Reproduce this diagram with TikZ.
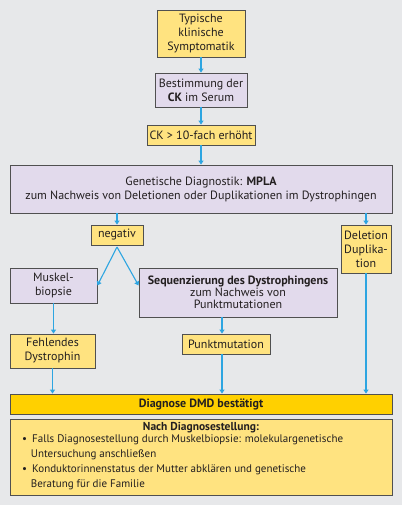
\documentclass[tikz,border=0pt]{standalone}
\usepackage{fontspec}
\setmainfont{PT Sans}
\usetikzlibrary{arrows.meta}
\definecolor{bg}{RGB}{231,232,234}
\definecolor{yel}{RGB}{255,227,128}
\definecolor{yeldark}{RGB}{255,208,0}
\definecolor{pur}{RGB}{226,218,236}
\definecolor{arrblue}{RGB}{45,165,225}
\definecolor{txt}{RGB}{35,31,32}
\definecolor{frame}{RGB}{80,80,80}
\tikzset{
  box/.style={draw=frame, line width=0.8pt, inner sep=0pt, align=center, text=txt, font=\fontsize{12}{14}\selectfont},
  ybox/.style={box, fill=yel},
  pbox/.style={box, fill=pur},
  arr/.style={draw=arrblue, line width=1.1pt, -{Triangle[width=5pt,length=4pt]}},
}
\begin{document}
\begin{tikzpicture}[x=1pt,y=-1pt]
\fill[bg] (0,0) rectangle (402,505);
\useasboundingbox (0,0) rectangle (402,505);
\node[ybox, minimum width=88, minimum height=47] (sympt) at (201,33.5) {Typische\\klinische\\Symptomatik};
\node[pbox, minimum width=92, minimum height=34] (ck) at (201,90) {Bestimmung der\\\textbf{CK} im Serum};
\node[ybox, minimum width=108, minimum height=20] (ck10) at (201,135) {CK > 10-fach erhöht};
\node[pbox, minimum width=382, minimum height=48] (gen) at (201,189) {Genetische Diagnostik: \textbf{MPLA}\\zum Nachweis von Deletionen oder Duplikationen im Dystrophingen};
\node[ybox, minimum width=52, minimum height=20] (neg) at (117,235) {negativ};
\node[ybox, minimum width=50, minimum height=48] (del) at (366,249) {Deletion\\Duplika-\\tion};
\node[pbox, minimum width=87, minimum height=35] (musk) at (53.5,285.5) {Muskel-\\biopsie};
\node[pbox, minimum width=198, minimum height=49] (seq) at (238,292.5) {\textbf{Sequenzierung des Dystrophingens}\\[-2pt]zum Nachweis von\\[-2pt]Punktmutationen};
\node[ybox, minimum width=85, minimum height=34] (fehl) at (52.5,351) {Fehlendes\\Dystrophin};
\node[ybox, minimum width=88, minimum height=20] (punkt) at (226,344) {Punktmutation};
\node[ybox, fill=yeldark, minimum width=382, minimum height=20, font=\fontsize{12}{14}\selectfont\bfseries] (diag) at (201,404) {Diagnose DMD bestätigt};
\node[ybox, minimum width=382, minimum height=76] (post) at (201,457) {};
\node[text=txt, font=\fontsize{11.5}{14}\selectfont\bfseries, inner sep=0pt] (posth) at (201,428) {Nach Diagnosestellung:};
\node[text=txt, font=\fontsize{11}{15}\selectfont, inner sep=0pt, align=left, anchor=north west] (postl) at (22,435)
 {•\hspace{5pt}Falls Diagnosestellung durch Muskelbiopsie: molekulargenetische\\
  \hspace{8.7pt}Untersuchung anschließen\\
  •\hspace{5pt}Konduktorinnenstatus der Mutter abklären und genetische\\
  \hspace{8.7pt}Beratung für die Familie};
\coordinate (vtop) at (117,247);
\coordinate (pkn) at ([xshift=-4pt]punkt.north);
\coordinate (pks) at ([xshift=-4pt]punkt.south);
\draw[arr] (sympt) -- (ck);
\draw[arr] (ck) -- (ck10);
\draw[arr] (ck10) -- (gen);
\draw[arr] (gen.south -| neg) -- (neg);
\draw[arr] (gen.south -| del) -- (del);
\draw[arr] (vtop) -- (musk.east);
\draw[arr] (vtop) -- (seq.west |- musk.east);
\draw[arr] (musk.south) -- (musk.south |- fehl.north);
\draw[arr] (seq.south -| pkn) -- (pkn);
\draw[arr] (fehl.south) -- (fehl.south |- diag.north);
\draw[arr] (pks) -- (pks |- diag.north);
\draw[arr] (del.south) -- (del.south |- diag.north);
\end{tikzpicture}
\end{document}
